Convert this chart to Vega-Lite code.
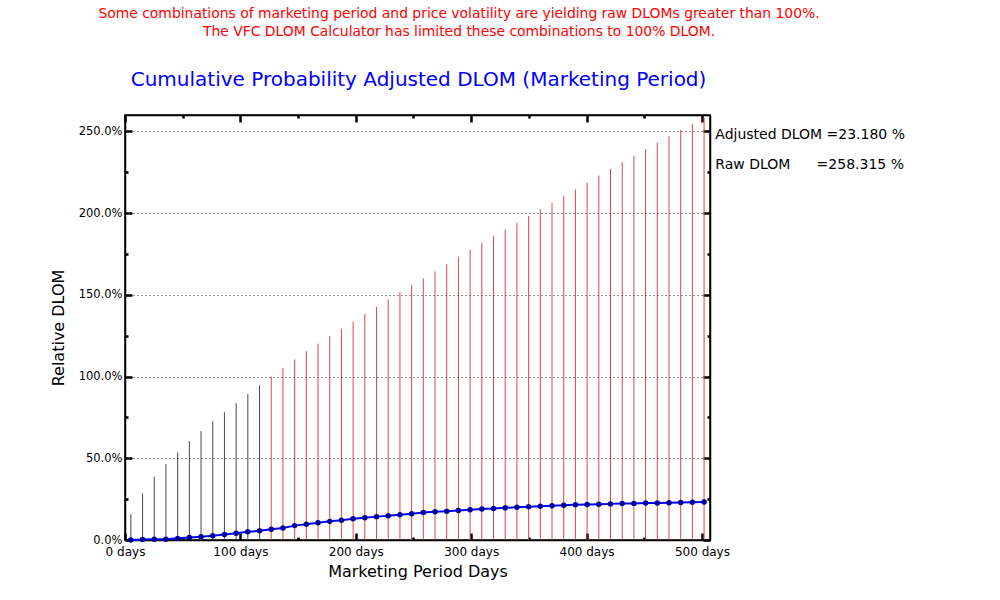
{
  "$schema": "https://vega.github.io/schema/vega-lite/v6.json",
  "width": 585,
  "height": 425,
  "autosize": {"type": "none"},
  "padding": {"left": 125, "top": 115, "right": 290, "bottom": 60},
  "config": {
    "font": "DejaVu Sans",
    "view": {"stroke": "black", "strokeWidth": 1.5},
    "axis": {"labelFont": "DejaVu Sans", "titleFont": "DejaVu Sans", "labelColor": "black", "titleColor": "black", "titleFontWeight": "normal", "domainColor": "black", "domainWidth": 1.5, "tickColor": "black", "labelOverlap": false, "labelFlush": false}
  },
  "data": {"values": [
    {"days": 5.07, "raw": 15.9, "adj": 0.0},
    {"days": 15.21, "raw": 28.5, "adj": 0.3},
    {"days": 25.35, "raw": 38.7, "adj": 0.4},
    {"days": 35.49, "raw": 46.5, "adj": 0.5},
    {"days": 45.63, "raw": 53.6, "adj": 1.0},
    {"days": 55.77, "raw": 60.5, "adj": 1.5},
    {"days": 65.90, "raw": 66.6, "adj": 2.0},
    {"days": 76.04, "raw": 72.7, "adj": 2.6},
    {"days": 86.18, "raw": 78.2, "adj": 3.3},
    {"days": 96.32, "raw": 83.7, "adj": 4.1},
    {"days": 106.46, "raw": 89.3, "adj": 5.0},
    {"days": 116.60, "raw": 94.7, "adj": 5.6},
    {"days": 126.74, "raw": 100.0, "adj": 6.6},
    {"days": 136.88, "raw": 105.3, "adj": 7.4},
    {"days": 147.02, "raw": 110.5, "adj": 8.8},
    {"days": 157.16, "raw": 115.5, "adj": 9.7},
    {"days": 167.29, "raw": 120.2, "adj": 10.6},
    {"days": 177.43, "raw": 124.7, "adj": 11.4},
    {"days": 187.57, "raw": 129.2, "adj": 12.1},
    {"days": 197.71, "raw": 133.6, "adj": 13.0},
    {"days": 207.85, "raw": 138.3, "adj": 13.6},
    {"days": 217.99, "raw": 142.6, "adj": 14.3},
    {"days": 228.13, "raw": 147.2, "adj": 14.9},
    {"days": 238.27, "raw": 151.6, "adj": 15.5},
    {"days": 248.41, "raw": 156.0, "adj": 16.1},
    {"days": 258.55, "raw": 160.1, "adj": 16.8},
    {"days": 268.68, "raw": 164.3, "adj": 17.3},
    {"days": 278.82, "raw": 168.7, "adj": 17.6},
    {"days": 288.96, "raw": 173.3, "adj": 18.1},
    {"days": 299.10, "raw": 177.6, "adj": 18.5},
    {"days": 309.24, "raw": 181.7, "adj": 18.9},
    {"days": 319.38, "raw": 186.0, "adj": 19.3},
    {"days": 329.52, "raw": 190.0, "adj": 19.7},
    {"days": 339.66, "raw": 194.0, "adj": 20.0},
    {"days": 349.80, "raw": 198.3, "adj": 20.4},
    {"days": 359.94, "raw": 202.4, "adj": 20.7},
    {"days": 370.07, "raw": 206.2, "adj": 21.0},
    {"days": 380.21, "raw": 210.4, "adj": 21.2},
    {"days": 390.35, "raw": 214.5, "adj": 21.5},
    {"days": 400.49, "raw": 218.6, "adj": 21.7},
    {"days": 410.63, "raw": 223.0, "adj": 21.9},
    {"days": 420.77, "raw": 227.0, "adj": 22.1},
    {"days": 430.91, "raw": 231.2, "adj": 22.3},
    {"days": 441.05, "raw": 235.0, "adj": 22.4},
    {"days": 451.19, "raw": 239.1, "adj": 22.6},
    {"days": 461.33, "raw": 243.1, "adj": 22.7},
    {"days": 471.46, "raw": 247.0, "adj": 22.85},
    {"days": 481.60, "raw": 250.8, "adj": 22.95},
    {"days": 491.74, "raw": 254.6, "adj": 23.05},
    {"days": 501.88, "raw": 258.315, "adj": 23.18}
  ]},
  "resolve": {"axis": {"x": "independent", "y": "independent"}},
  "layer": [
    {
      "mark": {"type": "rule", "strokeWidth": 0.9},
      "encoding": {
        "x": {"field": "days", "type": "quantitative", "scale": {"domain": [0, 507], "nice": false, "zero": false},
          "axis": {"orient": "bottom", "values": [0, 50, 100, 150, 200, 250, 300, 350, 400, 450, 500],
            "labelExpr": "datum.value % 100 === 0 ? datum.value + ' days' : ''",
            "tickSize": {"condition": {"test": "datum.value % 100 === 0", "value": -7}, "value": -3},
            "tickWidth": 2.5, "labelFontSize": 12, "labelPadding": 13, "grid": false,
            "title": "Marketing Period Days", "titleFontSize": 16, "titlePadding": 2}},
        "y": {"field": "raw", "type": "quantitative", "scale": {"domain": [0, 260], "nice": false, "zero": false},
          "axis": {"orient": "left", "values": [0, 25, 50, 75, 100, 125, 150, 175, 200, 225, 250],
            "labelExpr": "datum.value % 50 === 0 ? format(datum.value, '.1f') + '%' : ''",
            "tickSize": {"condition": {"test": "datum.value % 50 === 0", "value": -7}, "value": -3},
            "tickWidth": 2.5, "labelFontSize": 11.5, "labelPadding": 10,
            "grid": true, "gridDash": [1, 3], "gridColor": "#222", "gridWidth": 1,
            "gridOpacity": {"condition": {"test": "datum.value % 50 === 0", "value": 1}, "value": 0},
            "title": "Relative DLOM", "titleFontSize": 16, "titlePadding": 12}},
        "y2": {"datum": 0},
        "color": {"condition": {"test": "datum.raw >= 100", "value": "#e03030"}, "value": "#333333"}
      }
    },
    {
      "mark": {"type": "line", "color": "#0000ff", "strokeWidth": 2, "point": {"filled": true, "color": "#000099", "size": 30, "opacity": 1}},
      "encoding": {
        "x": {"field": "days", "type": "quantitative", "scale": {"domain": [0, 507], "nice": false, "zero": false},
          "axis": {"orient": "top", "values": [0, 50, 100, 150, 200, 250, 300, 350, 400, 450, 500], "labels": false,
            "tickSize": {"condition": {"test": "datum.value % 100 === 0", "value": -7}, "value": -3},
            "tickWidth": 2.5, "grid": false, "title": null}},
        "y": {"field": "adj", "type": "quantitative", "scale": {"domain": [0, 260], "nice": false, "zero": false},
          "axis": {"orient": "right", "values": [0, 25, 50, 75, 100, 125, 150, 175, 200, 225, 250], "labels": false,
            "tickSize": {"condition": {"test": "datum.value % 50 === 0", "value": -7}, "value": -3},
            "tickWidth": 2.5, "grid": false, "title": null}}
      }
    },
    {
      "data": {"values": [{}]},
      "mark": {"type": "text", "text": ["Some combinations of marketing period and price volatility are yielding raw DLOMs greater than 100%.", "The VFC DLOM Calculator has limited these combinations to 100% DLOM."], "color": "#ff0000", "fontSize": 13.9, "align": "center", "baseline": "top", "lineHeight": 18},
      "encoding": {
        "x": {"datum": 289.5, "type": "quantitative", "axis": null},
        "y": {"datum": 325.8, "type": "quantitative", "axis": null}
      }
    },
    {
      "data": {"values": [{}]},
      "mark": {"type": "text", "text": "Cumulative Probability Adjusted DLOM (Marketing Period)", "color": "#0000ff", "fontSize": 20, "align": "center", "baseline": "middle"},
      "encoding": {
        "x": {"datum": 254.4, "type": "quantitative", "axis": null},
        "y": {"datum": 281.6, "type": "quantitative", "axis": null}
      }
    },
    {
      "data": {"values": [{}]},
      "mark": {"type": "text", "text": "Adjusted DLOM", "color": "black", "fontSize": 14, "align": "left", "baseline": "middle"},
      "encoding": {
        "x": {"datum": 511.6, "type": "quantitative", "axis": null},
        "y": {"datum": 247.6, "type": "quantitative", "axis": null}
      }
    },
    {
      "data": {"values": [{}]},
      "mark": {"type": "text", "text": "=23.180 %", "color": "black", "fontSize": 14, "align": "left", "baseline": "middle"},
      "encoding": {
        "x": {"datum": 608.0, "type": "quantitative", "axis": null},
        "y": {"datum": 247.6, "type": "quantitative", "axis": null}
      }
    },
    {
      "data": {"values": [{}]},
      "mark": {"type": "text", "text": "Raw DLOM", "color": "black", "fontSize": 14, "align": "left", "baseline": "middle"},
      "encoding": {
        "x": {"datum": 511.6, "type": "quantitative", "axis": null},
        "y": {"datum": 229.2, "type": "quantitative", "axis": null}
      }
    },
    {
      "data": {"values": [{}]},
      "mark": {"type": "text", "text": "=258.315 %", "color": "black", "fontSize": 14, "align": "left", "baseline": "middle"},
      "encoding": {
        "x": {"datum": 599.4, "type": "quantitative", "axis": null},
        "y": {"datum": 229.2, "type": "quantitative", "axis": null}
      }
    }
  ]
}
